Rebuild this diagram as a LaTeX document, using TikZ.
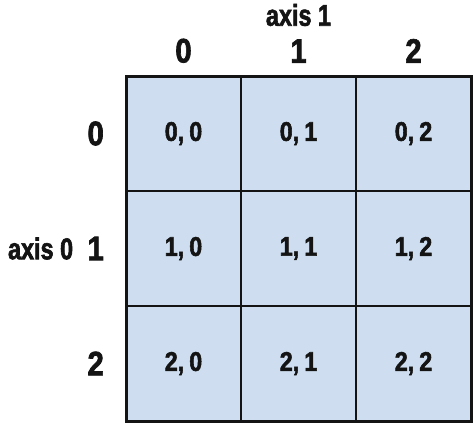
\documentclass[tikz,border=0pt]{standalone}
\usepackage{fontspec}
\newfontfamily\condbf[FakeStretch=0.86, FakeBold=2, WordSpace=0.8]{Liberation Sans}
\newfontfamily\narrbf[FakeStretch=0.78, FakeBold=2]{Liberation Sans}
\usetikzlibrary{positioning}
\definecolor{cCell}{RGB}{206,222,240}
\definecolor{cInk} {RGB}{20,20,20}

\begin{document}
\begin{tikzpicture}[
  x=1pt, y=1pt,
  % ── array cells
  cell/.style={
    draw=cInk, fill=cCell, line width=2.8pt,
    minimum width=115pt, minimum height=115pt,
    inner sep=0pt, outer sep=0pt,
    font=\condbf\bfseries\fontsize{27}{27}\selectfont, text=cInk
  },
  % ── index labels
  idx/.style={inner sep=0pt, font=\condbf\bfseries\fontsize{34}{34}\selectfont, text=cInk},
  % ── axis labels
  axl/.style={inner sep=0pt, font=\narrbf\bfseries\fontsize{30}{30}\selectfont, text=cInk},
]

\useasboundingbox (0,0) rectangle (474,-424);

%% ═══════════════════════════════════════════════════════════════
%%  3 x 3 ARRAY
%% ═══════════════════════════════════════════════════════════════

\node[cell] (c00) at (183.5,-133.5) {0, 0};
\node[cell, right=0pt of c00] (c01) {0, 1};
\node[cell, right=0pt of c01] (c02) {0, 2};

\node[cell, below=0pt of c00] (c10) {1, 0};
\node[cell, right=0pt of c10] (c11) {1, 1};
\node[cell, right=0pt of c11] (c12) {1, 2};

\node[cell, below=0pt of c10] (c20) {2, 0};
\node[cell, right=0pt of c20] (c21) {2, 1};
\node[cell, right=0pt of c21] (c22) {2, 2};

% outer frame a bit heavier
\draw[draw=cInk, line width=3pt] (c00.north west) rectangle (c22.south east);

%% ═══════════════════════════════════════════════════════════════
%%  INDEX LABELS
%% ═══════════════════════════════════════════════════════════════

\node[idx, above=13pt of c00] (col0) {0};
\node[idx, above=13pt of c01] (col1) {1};
\node[idx, above=13pt of c02] (col2) {2};

\node[idx, left=22pt of c00] (row0) {0};
\node[idx, left=22pt of c10] (row1) {1};
\node[idx, left=22pt of c20] (row2) {2};

% axis names
\node[axl, above=13pt of col1] (ax1) {axis 1};
\node[axl, left=14pt of row1]  (ax0) {axis 0};

\end{tikzpicture}
\end{document}
